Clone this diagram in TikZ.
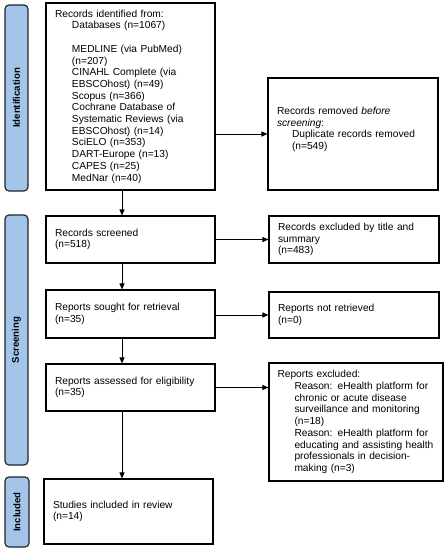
\documentclass[tikz,border=0pt]{standalone}
\usepackage{fontspec}
\setmainfont{Liberation Sans}
\usetikzlibrary{arrows.meta}
\definecolor{barblue}{HTML}{A4C5EA}
\begin{document}
\begin{tikzpicture}[x=1pt,y=-1pt,
  every node/.style={font=\fontsize{10.2}{11.7}\selectfont},
  flowbox/.style={draw=black,line width=1.1pt,rectangle,inner xsep=9pt,inner ysep=0pt,align=left},
  phasebar/.style={draw=black!85,fill=barblue,line width=1.2pt,rounded corners=4pt,inner sep=0pt},
  phaselabel/.style={rotate=90,font=\fontsize{9.6}{11}\selectfont\bfseries},
  flowarrow/.style={-{Triangle[length=6pt,width=5pt]},line width=0.9pt}]
\useasboundingbox (0,0) rectangle (446,550);
\fill[white] (0,0) rectangle (446,550);
% phase bars
\node[phasebar,minimum width=23pt,minimum height=186pt] (barI) at (16.5,98) {};
\node[phaselabel] (labI) at (barI.center) {Identification};
\node[phasebar,minimum width=23pt,minimum height=250pt] (barS) at (16.5,340) {};
\node[phaselabel] (labS) at (barS.center) {Screening};
\node[phasebar,minimum width=24pt,minimum height=70pt] (barN) at (17,512) {};
\node[phaselabel] (labN) at (barN.center) {Included};
% boxes
\newcommand{\ind}{\hspace*{17pt}}
\node[flowbox,text width=151pt,minimum height=187pt] (ident) at (130.5,96.5) {Records identified from:\\
\ind Databases (n=1067)\\[11.7pt]
\ind MEDLINE (via PubMed)\\
\ind (n=207)\\
\ind CINAHL Complete (via\\
\ind EBSCOhost) (n=49)\\
\ind Scopus (n=366)\\
\ind Cochrane Database of\\
\ind Systematic Reviews (via\\
\ind EBSCOhost) (n=14)\\
\ind SciELO (n=353)\\
\ind DART-Europe (n=13)\\
\ind CAPES (n=25)\\
\ind MedNar (n=40)};
\node[flowbox,text width=152pt,minimum height=112pt] (removed) at (353,134) {Records removed \textit{before}\\
\textit{screening}:\\
\hspace*{15pt}Duplicate records removed\\
\hspace*{15pt}(n=549)\\
\mbox{}};
\node[flowbox,text width=151pt,minimum height=47pt] (screened) at (130.5,239.5) {Records screened\\(n=518)};
\node[flowbox,text width=152pt,minimum height=47pt] (excl1) at (354,239.5) {Records excluded by title and\\summary\\(n=483)};
\node[flowbox,text width=151pt,minimum height=48pt] (sought) at (130.5,314) {Reports sought for retrieval\\(n=35)};
\node[flowbox,text width=152pt,minimum height=46pt] (notret) at (354,315) {Reports not retrieved\\(n=0)};
\node[flowbox,text width=151pt,minimum height=47pt] (assessed) at (130.5,387.5) {Reports assessed for eligibility\\(n=35)};
\newcommand{\indr}{\hspace*{17pt}}
\node[flowbox,text width=157pt,inner xsep=8.5pt,minimum height=118pt] (excl2) at (356,422) {Reports excluded:\\
\indr Reason: eHealth platform for\\
\indr chronic or acute disease\\
\indr surveillance and monitoring\\
\indr (n=18)\\
\indr Reason: eHealth platform for\\
\indr educating and assisting health\\
\indr professionals in decision-\\
\indr making (n=3)};
\node[flowbox,text width=151pt,minimum height=65pt] (included) at (128.5,511.5) {Studies included in review\\(n=14)\\[11pt]};
% connectors
\coordinate (col) at (122,0);
\draw[flowarrow] (ident.south -| col) -- (screened.north -| col);
\draw[flowarrow] (screened.south -| col) -- (sought.north -| col);
\draw[flowarrow] (sought.south -| col) -- (assessed.north -| col);
\draw[flowarrow] (assessed.south -| col) -- (included.north -| col);
\draw[flowarrow] (removed.west -| ident.east) -- (removed.west);
\draw[flowarrow] (screened.east) -- (screened.east -| excl1.west);
\draw[flowarrow] (notret.west -| sought.east) -- (notret.west);
\draw[flowarrow] (assessed.east) -- (assessed.east -| excl2.west);
\end{tikzpicture}
\end{document}
